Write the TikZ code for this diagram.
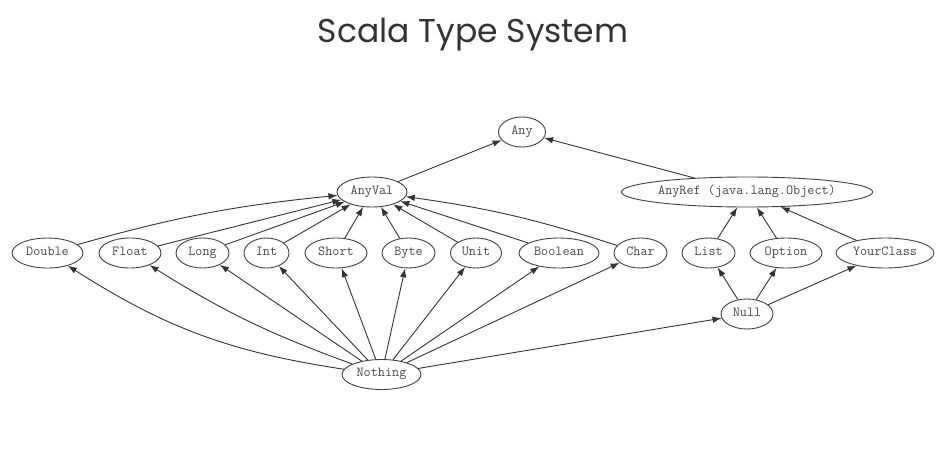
\documentclass[tikz,border=0pt]{standalone}
\usepackage{fontspec}
\newfontfamily\titlefont{Poppins}
\usetikzlibrary{shapes.geometric,arrows.meta}

\begin{document}
\begin{tikzpicture}[x=1pt,y=-1pt,
    typ/.style={draw=black!75,line width=0.9pt,ellipse,minimum height=30pt,inner sep=0pt,
      text height=1.4ex,text depth=0.35ex,
      font=\ttfamily\fontsize{13.8}{15}\selectfont,text=black!72},
    isa/.style={draw=black!80,line width=0.9pt,-{Latex[length=9pt,width=6.5pt]}}]

    \useasboundingbox (0,0) rectangle (943,450);
    \node[text=black!80] (title) at (473,35) {\titlefont\fontsize{33}{40}\selectfont Scala Type System};

    % top of the hierarchy
    \node[typ,minimum width=47pt] (any) at (522,132) {Any};
    \node[typ,minimum width=70pt] (anyval) at (372,192) {AnyVal};
    \node[typ,minimum width=240pt] (anyref) at (747,192) {AnyRef (java.lang.Object)};

    % value types
    \node[typ,minimum width=71pt] (double) at (47.5,253) {Double};
    \node[typ,minimum width=62pt] (float) at (130,253) {Float};
    \node[typ,minimum width=53pt] (long) at (202.5,253) {Long};
    \node[typ,minimum width=45pt] (int) at (266.5,253) {Int};
    \node[typ,minimum width=62pt] (short) at (336,253) {Short};
    \node[typ,minimum width=53pt] (byte) at (408.5,253) {Byte};
    \node[typ,minimum width=51pt] (unit) at (476,253) {Unit};
    \node[typ,minimum width=80pt] (boolean) at (559,253) {Boolean};
    \node[typ,minimum width=53pt] (char) at (640.5,253) {Char};

    % reference types
    \node[typ,minimum width=53pt] (list) at (708.5,253) {List};
    \node[typ,minimum width=72pt] (option) at (786,253) {Option};
    \node[typ,minimum width=98pt] (yourclass) at (885,253) {YourClass};

    % bottom types
    \node[typ,minimum width=52pt] (null) at (747,314) {Null};
    \node[typ,minimum width=79pt] (nothing) at (381.5,374.5) {Nothing};

    \draw[isa] (anyval) -- (any);
    \draw[isa] (anyref) -- (any);

    \draw[isa] (double) to[bend left=5] (anyval);
    \foreach \t in {float,long,int,short,byte,unit,boolean}
        \draw[isa] (\t) -- (anyval);
    \draw[isa] (char) to[bend right=5] (anyval);

    \foreach \t in {list,option,yourclass}{
        \draw[isa] (\t) -- (anyref);
        \draw[isa] (null) -- (\t);
    }

    \draw[isa] (nothing) to[bend left=12] (double);
    \draw[isa] (nothing) to[bend left=6] (float);
    \foreach \t in {long,int,short,byte,unit,boolean,char,null}
        \draw[isa] (nothing) -- (\t);

\end{tikzpicture}
\end{document}
